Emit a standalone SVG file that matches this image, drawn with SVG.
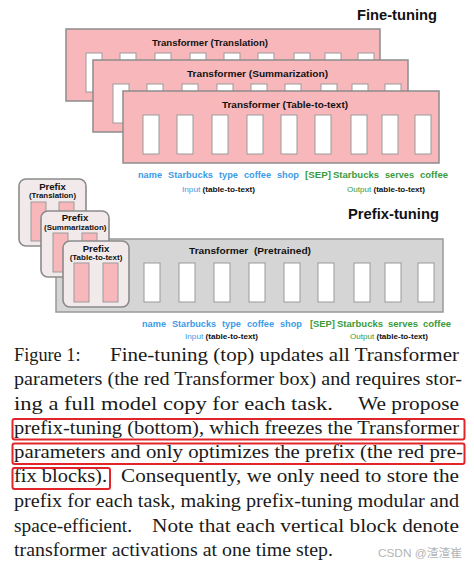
<svg xmlns="http://www.w3.org/2000/svg" width="474" height="567" viewBox="0 0 474 567">
<style>
.bg{fill:#ffffff}
.tbox{fill:#f8b8bb;stroke:#8c8c8c;stroke-width:1.5}
.gbox{fill:#d5d5d5;stroke:#999999;stroke-width:1.5}
.blk{fill:#ffffff;stroke:#9a9a9a;stroke-width:1}
.pblk{fill:#f8b8bb;stroke:#9a9a9a;stroke-width:1}
.pbox{fill:#f2eaea;stroke:#8a8a8a;stroke-width:1.6}
.sans{font-family:"Liberation Sans",Arial,sans-serif;font-weight:bold}
.title{font-size:14.5px;fill:#111}
.ttl{font-size:9.5px;fill:#111}
.tok{font-size:9.5px}
.blue{fill:#3c9be6}
.green{fill:#3a9a3a}
.io{font-size:7.8px;fill:#111}
.pt{font-size:9.6px;fill:#111}
.ps{font-size:7.4px;fill:#111}
.cap{font-family:"Liberation Serif","Times New Roman",serif;font-size:18.3px;fill:#1a1a1a}
.hl{fill:none;stroke:#e2252b;stroke-width:2}
.wm{font-family:"Liberation Sans","Noto Sans CJK SC",sans-serif;font-size:11.5px;fill:#b4b4b4}
</style>
<rect class="bg" x="0" y="0" width="474" height="567"/>

<text class="sans title" x="357" y="20" textLength="80" lengthAdjust="spacingAndGlyphs">Fine-tuning</text>

<g id="ft-translation">
<rect class="tbox" x="66" y="29" width="314" height="72"/>
<text class="sans ttl" x="152" y="46" textLength="116" lengthAdjust="spacingAndGlyphs">Transformer (Translation)</text>
<rect class="blk" x="86" y="53" width="16" height="39"/>
<rect class="blk" x="120" y="53" width="16" height="39"/>
<rect class="blk" x="155" y="53" width="16" height="39"/>
<rect class="blk" x="190" y="53" width="16" height="39"/>
<rect class="blk" x="224" y="53" width="16" height="39"/>
<rect class="blk" x="258" y="53" width="16" height="39"/>
<rect class="blk" x="294" y="53" width="16" height="39"/>
<rect class="blk" x="325" y="53" width="16" height="39"/>
<rect class="blk" x="358" y="53" width="16" height="39"/>
</g>

<g id="ft-summarization">
<rect class="tbox" x="93" y="60" width="315" height="72"/>
<text class="sans ttl" x="187" y="77" textLength="141" lengthAdjust="spacingAndGlyphs">Transformer (Summarization)</text>
<rect class="blk" x="113" y="84" width="16" height="39"/>
<rect class="blk" x="147" y="84" width="16" height="39"/>
<rect class="blk" x="182" y="84" width="16" height="39"/>
<rect class="blk" x="217" y="84" width="16" height="39"/>
<rect class="blk" x="251" y="84" width="16" height="39"/>
<rect class="blk" x="285" y="84" width="16" height="39"/>
<rect class="blk" x="321" y="84" width="16" height="39"/>
<rect class="blk" x="352" y="84" width="16" height="39"/>
<rect class="blk" x="385" y="84" width="16" height="39"/>
</g>

<g id="ft-table-to-text">
<rect class="tbox" x="123" y="91" width="316" height="72"/>
<text class="sans ttl" x="222" y="107.5" textLength="126" lengthAdjust="spacingAndGlyphs">Transformer (Table-to-text)</text>
<rect class="blk" x="143" y="115" width="16" height="39"/>
<rect class="blk" x="177" y="115" width="16" height="39"/>
<rect class="blk" x="212" y="115" width="16" height="39"/>
<rect class="blk" x="247" y="115" width="16" height="39"/>
<rect class="blk" x="281" y="115" width="16" height="39"/>
<rect class="blk" x="315" y="115" width="16" height="39"/>
<rect class="blk" x="351" y="115" width="16" height="39"/>
<rect class="blk" x="382" y="115" width="16" height="39"/>
<rect class="blk" x="415" y="115" width="16" height="39"/>
</g>

<g id="ft-tokens" class="sans tok">
<text class="blue" x="138" y="178" textLength="24" lengthAdjust="spacingAndGlyphs">name</text>
<text class="blue" x="168" y="178" textLength="45" lengthAdjust="spacingAndGlyphs">Starbucks</text>
<text class="blue" x="219" y="178" textLength="19" lengthAdjust="spacingAndGlyphs">type</text>
<text class="blue" x="244" y="178" textLength="27" lengthAdjust="spacingAndGlyphs">coffee</text>
<text class="blue" x="277" y="178" textLength="22" lengthAdjust="spacingAndGlyphs">shop</text>
<text class="green" x="305" y="178" textLength="26" lengthAdjust="spacingAndGlyphs">[SEP]</text>
<text class="green" x="333" y="178" textLength="46" lengthAdjust="spacingAndGlyphs">Starbucks</text>
<text class="green" x="385" y="178" textLength="29" lengthAdjust="spacingAndGlyphs">serves</text>
<text class="green" x="420" y="178" textLength="28" lengthAdjust="spacingAndGlyphs">coffee</text>
<text class="io" x="182" y="192" textLength="73" lengthAdjust="spacingAndGlyphs"><tspan class="blue" font-weight="normal">Input</tspan> (table-to-text)</text>
<text class="io" x="347" y="192" textLength="78" lengthAdjust="spacingAndGlyphs"><tspan class="green" font-weight="normal">Output</tspan> (table-to-text)</text>
</g>

<text class="sans title" x="348" y="219" textLength="91" lengthAdjust="spacingAndGlyphs">Prefix-tuning</text>

<g id="pt-transformer">
<rect class="gbox" x="56" y="239" width="387" height="73"/>
<text class="sans ttl" x="189" y="254" textLength="122" lengthAdjust="spacingAndGlyphs" xml:space="preserve">Transformer  (Pretrained)</text>
<rect class="blk" x="144" y="263" width="16" height="39"/>
<rect class="blk" x="179" y="263" width="16" height="39"/>
<rect class="blk" x="214" y="263" width="16" height="39"/>
<rect class="blk" x="249" y="263" width="16" height="39"/>
<rect class="blk" x="284" y="263" width="16" height="39"/>
<rect class="blk" x="318" y="263" width="16" height="39"/>
<rect class="blk" x="354" y="263" width="16" height="39"/>
<rect class="blk" x="385" y="263" width="16" height="39"/>
<rect class="blk" x="418" y="263" width="16" height="39"/>
</g>

<g id="prefix-translation">
<rect class="pbox" x="19" y="179" width="67" height="67" rx="7"/>
<text class="sans pt" x="52.5" y="189.5" text-anchor="middle">Prefix</text>
<text class="sans ps" x="29" y="198" textLength="47" lengthAdjust="spacingAndGlyphs">(Translation)</text>
<rect class="pblk" x="31" y="202" width="15" height="39"/>
<rect class="pblk" x="59" y="202" width="15" height="39"/>
</g>

<g id="prefix-summarization">
<rect class="pbox" x="41" y="211" width="68" height="66" rx="7"/>
<text class="sans pt" x="75" y="221" text-anchor="middle">Prefix</text>
<text class="sans ps" x="44" y="229.5" textLength="62.5" lengthAdjust="spacingAndGlyphs">(Summarization)</text>
<rect class="pblk" x="53" y="233" width="15" height="39"/>
<rect class="pblk" x="82" y="233" width="15" height="39"/>
</g>

<g id="prefix-table-to-text">
<rect class="pbox" x="63" y="241" width="66" height="66" rx="7"/>
<text class="sans pt" x="96" y="251.5" text-anchor="middle">Prefix</text>
<text class="sans ps" x="69.7" y="260" textLength="52.6" lengthAdjust="spacingAndGlyphs">(Table-to-text)</text>
<rect class="pblk" x="74" y="263" width="15" height="39"/>
<rect class="pblk" x="103" y="263" width="15" height="39"/>
</g>

<g id="pt-tokens" class="sans tok">
<text class="blue" x="142" y="327" textLength="24" lengthAdjust="spacingAndGlyphs">name</text>
<text class="blue" x="172" y="327" textLength="44" lengthAdjust="spacingAndGlyphs">Starbucks</text>
<text class="blue" x="222" y="327" textLength="19" lengthAdjust="spacingAndGlyphs">type</text>
<text class="blue" x="247" y="327" textLength="27" lengthAdjust="spacingAndGlyphs">coffee</text>
<text class="blue" x="280" y="327" textLength="22" lengthAdjust="spacingAndGlyphs">shop</text>
<text class="green" x="310" y="327" textLength="25" lengthAdjust="spacingAndGlyphs">[SEP]</text>
<text class="green" x="337" y="327" textLength="46" lengthAdjust="spacingAndGlyphs">Starbucks</text>
<text class="green" x="388" y="327" textLength="30" lengthAdjust="spacingAndGlyphs">serves</text>
<text class="green" x="423" y="327" textLength="28" lengthAdjust="spacingAndGlyphs">coffee</text>
<text class="io" x="185" y="339" textLength="73" lengthAdjust="spacingAndGlyphs"><tspan class="blue" font-weight="normal">Input</tspan> (table-to-text)</text>
<text class="io" x="350" y="339" textLength="78" lengthAdjust="spacingAndGlyphs"><tspan class="green" font-weight="normal">Output</tspan> (table-to-text)</text>
</g>

<g id="caption">
<text class="cap" x="14" y="361">Figure 1:</text>
<text class="cap" x="110" y="361" textLength="349" lengthAdjust="spacingAndGlyphs">Fine-tuning (top) updates all Transformer</text>
<text class="cap" x="14" y="385" textLength="448" lengthAdjust="spacingAndGlyphs">parameters (the red Transformer box) and requires stor-</text>
<text class="cap" x="14" y="410" textLength="319" lengthAdjust="spacingAndGlyphs">ing a full model copy for each task.</text>
<text class="cap" x="358" y="410" textLength="101" lengthAdjust="spacingAndGlyphs">We propose</text>
<text class="cap" x="14" y="434" textLength="445" lengthAdjust="spacingAndGlyphs">prefix-tuning (bottom), which freezes the Transformer</text>
<text class="cap" x="14" y="458" textLength="449" lengthAdjust="spacingAndGlyphs">parameters and only optimizes the prefix (the red pre-</text>
<text class="cap" x="14" y="482" textLength="93" lengthAdjust="spacingAndGlyphs">fix blocks).</text>
<text class="cap" x="121" y="482" textLength="338" lengthAdjust="spacingAndGlyphs">Consequently, we only need to store the</text>
<text class="cap" x="14" y="507" textLength="445" lengthAdjust="spacingAndGlyphs">prefix for each task, making prefix-tuning modular and</text>
<text class="cap" x="14" y="532" textLength="118" lengthAdjust="spacingAndGlyphs">space-efficient.</text>
<text class="cap" x="152" y="532" textLength="307" lengthAdjust="spacingAndGlyphs">Note that each vertical block denote</text>
<text class="cap" x="14" y="556" textLength="319" lengthAdjust="spacingAndGlyphs">transformer activations at one time step.</text>
</g>

<g id="highlights">
<rect class="hl" x="12.5" y="419" width="452" height="20.5" rx="2"/>
<rect class="hl" x="12.5" y="443.5" width="452" height="20.5" rx="2"/>
<rect class="hl" x="12.5" y="468" width="97.5" height="21" rx="2"/>
</g>

<text class="wm" x="378" y="557" textLength="84" lengthAdjust="spacingAndGlyphs">CSDN @渣渣崔</text>
</svg>
